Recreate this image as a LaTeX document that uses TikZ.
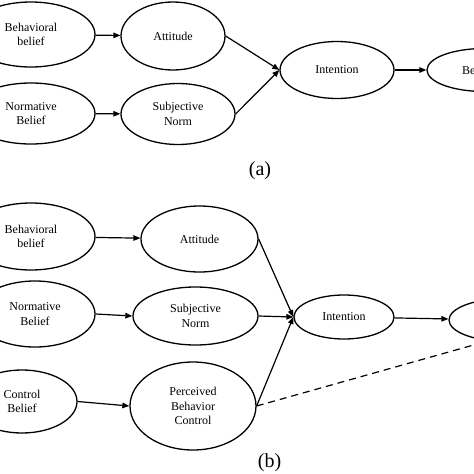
\documentclass[tikz,border=0pt]{standalone}
\usepackage{fontspec}
\setmainfont{Liberation Serif}
\usetikzlibrary{shapes.geometric,arrows.meta}
\begin{document}
\begin{tikzpicture}[x=1pt,y=-1pt,
  oval/.style={ellipse,draw,line width=1.3pt,inner sep=0pt,align=center,
    font=\fontsize{12}{14.5}\selectfont},
  arr/.style={line width=1.2pt,-{Triangle[length=7pt,width=5.5pt]}},
  dash2/.style={line width=1.2pt,dash pattern=on 7pt off 5pt},
  lab/.style={font=\fontsize{20}{24}\selectfont,inner sep=0pt}]
\useasboundingbox (0,0) rectangle (474,474);
\clip (0,0) rectangle (474,474);
% (a)
\node[oval,minimum width=128pt,minimum height=65pt] (bb1) at (31,34.5) {Behavioral\\belief};
\node[oval,minimum width=104pt,minimum height=68pt] (att1) at (173,36) {Attitude};
\node[oval,minimum width=128pt,minimum height=61pt] (nb1) at (31,113.5) {Normative\\Belief};
\node[oval,minimum width=114pt,minimum height=61pt] (sn1) at (178,114) {Subjective\\Norm};
\node[oval,minimum width=114pt,minimum height=57pt] (int1) at (337,70) {Intention};
\node[oval,minimum width=114pt,minimum height=43pt] (beh1) at (484,70) {Behavior};
\draw[arr] (bb1) -- (att1);
\draw[arr] (nb1) -- (sn1);
\draw[arr] (att1.east) -- (int1.west);
\draw[arr] (sn1.east) -- (int1.west);
\draw[arr] (int1) -- (beh1);
\node[lab] (la) at (260,171) {(a)};
% (b)
\node[oval,minimum width=128pt,minimum height=67pt] (bb2) at (31,236.5) {Behavioral\\belief};
\node[oval,minimum width=117pt,minimum height=66pt] (att2) at (199.5,239) {Attitude};
\node[oval,minimum width=120pt,minimum height=66pt] (nb2) at (35,314) {Normative\\Belief};
\node[oval,minimum width=125pt,minimum height=58pt] (sn2) at (195.5,316) {Subjective\\Norm};
\node[oval,minimum width=110pt,minimum height=63pt] (cb2) at (22,401.5) {Control\\Belief};
\node[oval,minimum width=126pt,minimum height=88pt] (pbc2) at (193,406) {Perceived\\Behavior\\Control};
\node[oval,minimum width=100pt,minimum height=44pt] (int2) at (344,317) {Intention};
\node[oval,minimum width=114pt,minimum height=43pt] (beh2) at (506,320) {Behavior};
\draw[arr] (bb2) -- (att2);
\draw[arr] (nb2.east) -- (sn2.west);
\draw[arr] (cb2.east) -- (pbc2.west);
\draw[arr] (att2.east) -- (int2.west);
\draw[arr] (sn2.east) -- (int2.west);
\draw[arr] (pbc2.east) -- (int2.west);
\draw[arr] (int2) -- (beh2);
\draw[dash2,-{Triangle[length=7pt,width=5.5pt]}] (pbc2.east) -- (beh2.-131);
\node[lab] (lb) at (269.5,463) {(b)};
\end{tikzpicture}
\end{document}
